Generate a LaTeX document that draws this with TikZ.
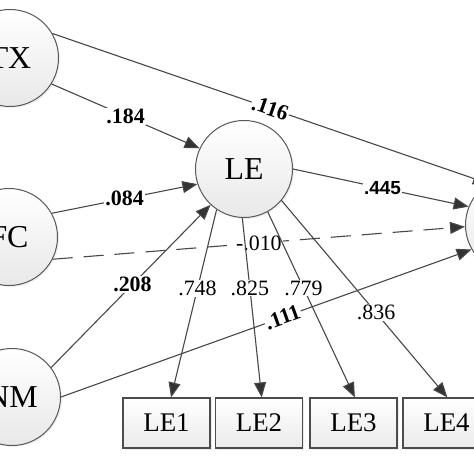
\documentclass[tikz,border=0pt]{standalone}
\usepackage{fontspec}
\setmainfont{Liberation Serif}
\newfontfamily\sanscoef{Liberation Sans}
\usepackage{xcolor}
\usetikzlibrary{arrows.meta}
\usetikzlibrary{shadows}

\begin{document}
\begin{tikzpicture}[x=1bp, y=-1bp,
  latente/.style={draw=black!65, circle, top color=white, bottom color=black!9, line width=1bp, minimum size=97bp, inner sep=0pt,
    font=\fontsize{32}{32}\selectfont, drop shadow={opacity=0.12, shadow xshift=1.5bp, shadow yshift=-1.5bp}},
  indicador/.style={draw=black!70, rectangle, top color=white, bottom color=black!8, line width=1.1bp, minimum width=87bp, minimum height=50bp,
    inner sep=0pt, font=\fontsize{27}{27}\selectfont, drop shadow={opacity=0.15, shadow xshift=1.5bp, shadow yshift=-1.5bp}},
  flecha/.style={draw=black!72, line width=1.1bp, -{Triangle[length=15bp, width=12bp, fill=black!80]}},
  coef/.style={fill=white, inner sep=1bp, font=\fontsize{22}{22}\selectfont\bfseries},
  carga/.style={fill=white, inner sep=1bp, font=\fontsize{22}{22}\selectfont}]
  \useasboundingbox (0,0) rectangle (474,474);
  \clip (0,0) rectangle (474,474);

  % Variables latentes
  \node[latente] (TX) at (10,58) {TX};
  \node[latente] (FC) at (9,237) {FC};
  \node[latente] (NM) at (12,397) {NM};
  \node[latente] (LE) at (244,169) {LE};
  \node[latente] (out) at (514,225) {};

  % Indicadores
  \node[indicador] (LE1) at (166.5,423) {LE1};
  \node[indicador] (LE2) at (259,423) {LE2};
  \node[indicador] (LE3) at (353.5,423) {LE3};
  \node[indicador] (LE4) at (446.5,423) {LE4};

  % Efectos directos
  \draw[flecha] (TX.-32) -- (LE.155) node[pos=.5, coef] {.184};
  \draw[flecha] (FC.29) -- (LE.198) node[pos=.5, coef] {.084};
  \draw[flecha] (NM.37) -- (LE.227) node[pos=.51, coef] {.208};
  \draw[flecha] (TX.30) -- (out.122) node[pos=.5, coef, sloped] {.116};
  \draw[flecha] (LE.east) -- (out.158) node[pos=.51, coef, font=\fontsize{19}{19}\sanscoef\bfseries] {.445};
  \draw[flecha, dash pattern=on 20bp off 11bp] (FC.-27) -- (out.182) node[pos=.5, carga] {-.010};
  \draw[flecha] (NM.east) -- (out.210) node[pos=.54, coef, sloped] {.111};

  % Cargas factoriales
  \draw[flecha] (LE.236) -- (LE1.80) node[pos=.42, carga] {.748};
  \draw[flecha] (LE.268) -- (LE2.84) node[pos=.39, carga] {.825};
  \draw[flecha] (LE.299) -- (LE3.87) node[pos=.41, carga] {.779};
  \draw[flecha] (LE.320) -- (LE4.88) node[pos=.57, carga] {.836};
\end{tikzpicture}
\end{document}
